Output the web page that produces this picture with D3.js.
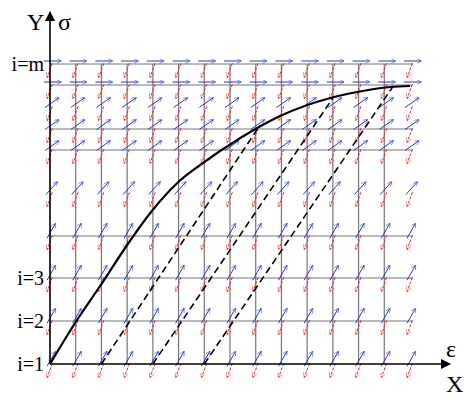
<!DOCTYPE html>
<html><head><meta charset="utf-8">
<script src="https://cdn.jsdelivr.net/npm/d3@7"></script>
<style>body{margin:0;background:#fff}</style></head>
<body><svg id="c" width="474" height="413"></svg>
<script>
// data (x in j-steps, y in stress units)
const columns = d3.range(0, 15);              // j = 1..n
const gridCols = d3.range(0, 14);
const gridRows = [0, 43, 86, 128, 214, 235, 279, 300];
const arrowRows = [0, 43, 86, 128, 171, 214, 235, 257, 279, 300];
const blueAngles = [60, 60, 60, 60, 48, 35, 35, 35, 0, 0];
const curveX = [0, 1, 2, 3, 3.9, 4.95, 5.84, 7.4, 8.95, 10.9, 11.945, 13.23, 14];
const curveY = [0, 42, 80, 119, 151, 181, 199, 226, 248, 266, 272, 277, 278];
const dashLines = [[2, 0, 8.17, 239], [4, 0, 11.0, 266], [6, 0, 13.35, 278]];
const rowLabels = [["i=1", 0], ["i=2", 43], ["i=3", 86], ["i=m", 300]];
const colLabels = [["j=1", 0], ["j=2", 1], ["j=3", 2], ["j=n", 14]];

const svg = d3.select("#c");
const x = d3.scaleLinear().domain([0, 14]).range([50, 410]);
const y = d3.scaleLinear().domain([0, 300]).range([364, 64]);
const defs = svg.append("defs");
function mk(id, col, filled) {
  defs.append("marker").attr("id", id).attr("viewBox", "0 0 10 10").attr("refX", 9).attr("refY", 5)
    .attr("markerWidth", filled ? 8 : 5).attr("markerHeight", filled ? 8 : 5).attr("orient", "auto")
    .attr("markerUnits", "userSpaceOnUse")
    .append("path").attr("d", "M0,0L10,5L0,10" + (filled ? "Z" : "")).attr("fill", filled ? col : "none").attr("stroke", col);
}
mk("mb", "#2233dd", false); mk("mr", "#ee2222", false);
defs.append("marker").attr("id", "ma").attr("viewBox", "0 0 10 10").attr("refX", 9).attr("refY", 5)
  .attr("markerWidth", 16).attr("markerHeight", 10).attr("orient", "auto").attr("markerUnits", "userSpaceOnUse")
  .append("path").attr("d", "M0,0L10,5L0,10Z").attr("fill", "#000");

// grid
svg.append("g").selectAll("line").data(gridCols.slice(1)).join("line")
  .attr("x1", d => x(d)).attr("x2", d => x(d)).attr("y1", y(0)).attr("y2", y(300))
  .attr("stroke", "#777").attr("stroke-width", 1.2);
svg.append("g").selectAll("line").data(gridRows.slice(1)).join("line")
  .attr("x1", x(0)).attr("x2", x(14) + 3).attr("y1", d => y(d)).attr("y2", d => y(d))
  .attr("stroke", "#777").attr("stroke-width", 1.2);

// arrows
const nodes = [];
arrowRows.forEach((r, ri) => columns.forEach(c => nodes.push({c, r, a: blueAngles[ri]})));
const g = svg.append("g");
nodes.forEach(n => {
  const px = x(n.c), py = y(n.r) - 3;
  const a = n.a * Math.PI / 180;
  g.append("line").attr("x1", px - 6 * Math.cos(a)).attr("y1", py + 6 * Math.sin(a))
    .attr("x2", px + 11 * Math.cos(a)).attr("y2", py - 11 * Math.sin(a))
    .attr("stroke", "#2233dd").attr("stroke-width", 1).attr("marker-end", "url(#mb)");
  const b = 250 * Math.PI / 180;
  g.append("line").attr("x1", px + 4 * Math.cos(b + Math.PI) + 1).attr("y1", py + 6 - 4 * Math.sin(b + Math.PI))
    .attr("x2", px + 11 * Math.cos(b) + 1).attr("y2", py + 6 - 11 * Math.sin(b))
    .attr("stroke", "#ee2222").attr("stroke-width", 1).attr("stroke-dasharray", "3,1.5").attr("marker-end", "url(#mr)");
});

// axes
svg.append("line").attr("x1", x(0)).attr("x2", x(0)).attr("y1", y(0)).attr("y2", 12)
  .attr("stroke", "#000").attr("stroke-width", 1.6).attr("marker-end", "url(#ma)");
svg.append("line").attr("x1", x(0)).attr("x2", 450).attr("y1", y(0)).attr("y2", y(0))
  .attr("stroke", "#000").attr("stroke-width", 1.6).attr("marker-end", "url(#ma)");

// curve & dashed lines
svg.append("path").datum(d3.zip(curveX, curveY))
  .attr("d", d3.line().x(d => x(d[0])).y(d => y(d[1])).curve(d3.curveMonotoneX))
  .attr("fill", "none").attr("stroke", "#000").attr("stroke-width", 2.2);
svg.append("g").selectAll("line").data(dashLines).join("line")
  .attr("x1", d => x(d[0])).attr("y1", d => y(d[1])).attr("x2", d => x(d[2])).attr("y2", d => y(d[3]))
  .attr("stroke", "#000").attr("stroke-width", 1.6).attr("stroke-dasharray", "7,4");

// labels
const font = "Liberation Serif";
const lab = svg.append("g").attr("font-family", font);
lab.append("text").attr("x", 27).attr("y", 30).text("Y").attr("font-size", 24);
lab.append("text").attr("x", 58).attr("y", 30).text("σ").attr("font-size", 24);
lab.append("text").attr("x", 446).attr("y", 357).text("ε").attr("font-size", 24);
lab.append("text").attr("x", 446).attr("y", 392).text("X").attr("font-size", 24);
rowLabels.forEach(d => {
  lab.append("text").attr("x", 44).attr("y", y(d[1]) + 7).attr("text-anchor", "end")
    .attr("font-size", 20).text(d[0]);
});
colLabels.forEach(d => {
  const cx = x(d[0]) + 7, cy = 368;
  lab.append("text").attr("x", cx).attr("y", cy).attr("text-anchor", "end")
    .attr("transform", "rotate(-90," + cx + "," + cy + ")")
    .attr("font-size", 20).text(d[0]);
});
</script></body></html>
